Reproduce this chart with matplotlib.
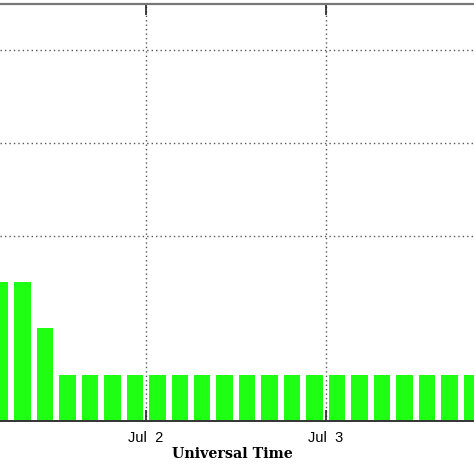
import matplotlib
matplotlib.use("Agg")
import matplotlib.pyplot as plt
import matplotlib.dates as mdates
from datetime import datetime, timedelta

# 3-hour interval start times (UT) and Kp values
interval_starts = [
    "2000-07-01 03:00", "2000-07-01 06:00", "2000-07-01 09:00", "2000-07-01 12:00",
    "2000-07-01 15:00", "2000-07-01 18:00", "2000-07-01 21:00",
    "2000-07-02 00:00", "2000-07-02 03:00", "2000-07-02 06:00", "2000-07-02 09:00",
    "2000-07-02 12:00", "2000-07-02 15:00", "2000-07-02 18:00", "2000-07-02 21:00",
    "2000-07-03 00:00", "2000-07-03 03:00", "2000-07-03 06:00", "2000-07-03 09:00",
    "2000-07-03 12:00", "2000-07-03 15:00", "2000-07-03 18:00",
]
kp_values = [3, 3, 2, 1, 1, 1, 1,
             1, 1, 1, 1, 1, 1, 1, 1,
             1, 1, 1, 1, 1, 1, 1]
major_dates = ["2000-07-02", "2000-07-03"]
major_labels = ["Jul  2", "Jul  3"]
grid_levels = [4, 6, 8]

starts = [datetime.strptime(s, "%Y-%m-%d %H:%M") for s in interval_starts]
centers = [s + timedelta(hours=1.5) for s in starts]
majors = [datetime.strptime(s, "%Y-%m-%d") for s in major_dates]

fig = plt.figure(figsize=(4.74, 4.74), dpi=100)
ax = fig.add_axes([0.0, 0.1118, 1.0, 0.8797])

bar_width = 2.2 / 24.0
ax.bar(mdates.date2num(centers), kp_values, width=bar_width,
       color="#1eff14", edgecolor="none", zorder=1)

x0 = datetime(2000, 7, 1) + timedelta(hours=5.27)
x1 = datetime(2000, 7, 1) + timedelta(hours=67.78)
ax.set_xlim(mdates.date2num(x0), mdates.date2num(x1))
ax.set_ylim(0, 9)

ax.set_xticks(mdates.date2num(majors))
ax.set_xticklabels(major_labels, fontfamily="Liberation Sans", fontsize=10.5)
ax.set_xticks(mdates.date2num(centers), minor=True)
ax.set_yticks(grid_levels)
ax.tick_params(axis="y", left=False, right=False, labelleft=False)
ax.tick_params(axis="x", which="major", direction="in", length=8, width=1.2,
               color="#222222", top=True, bottom=True, pad=7)
ax.tick_params(axis="x", which="minor", direction="in", length=6, width=0.8,
               color="#e8ffe0", top=False, bottom=True)

ax.set_axisbelow(True)
ax.grid(True, which="major", axis="both", linestyle=(0, (1, 2.2)),
        color="#555555", linewidth=1.0)

for side in ["left", "right"]:
    ax.spines[side].set_visible(False)
ax.spines["top"].set_color("#777777")
ax.spines["top"].set_linewidth(1.6)
ax.spines["bottom"].set_color("#333333")
ax.spines["bottom"].set_linewidth(1.4)

ax.set_xlabel("Universal Time", fontfamily="DejaVu Serif", fontweight="bold",
              fontsize=10.3)
ax.xaxis.set_label_coords(0.491, -0.063)

fig.savefig("out.png", dpi=100)
